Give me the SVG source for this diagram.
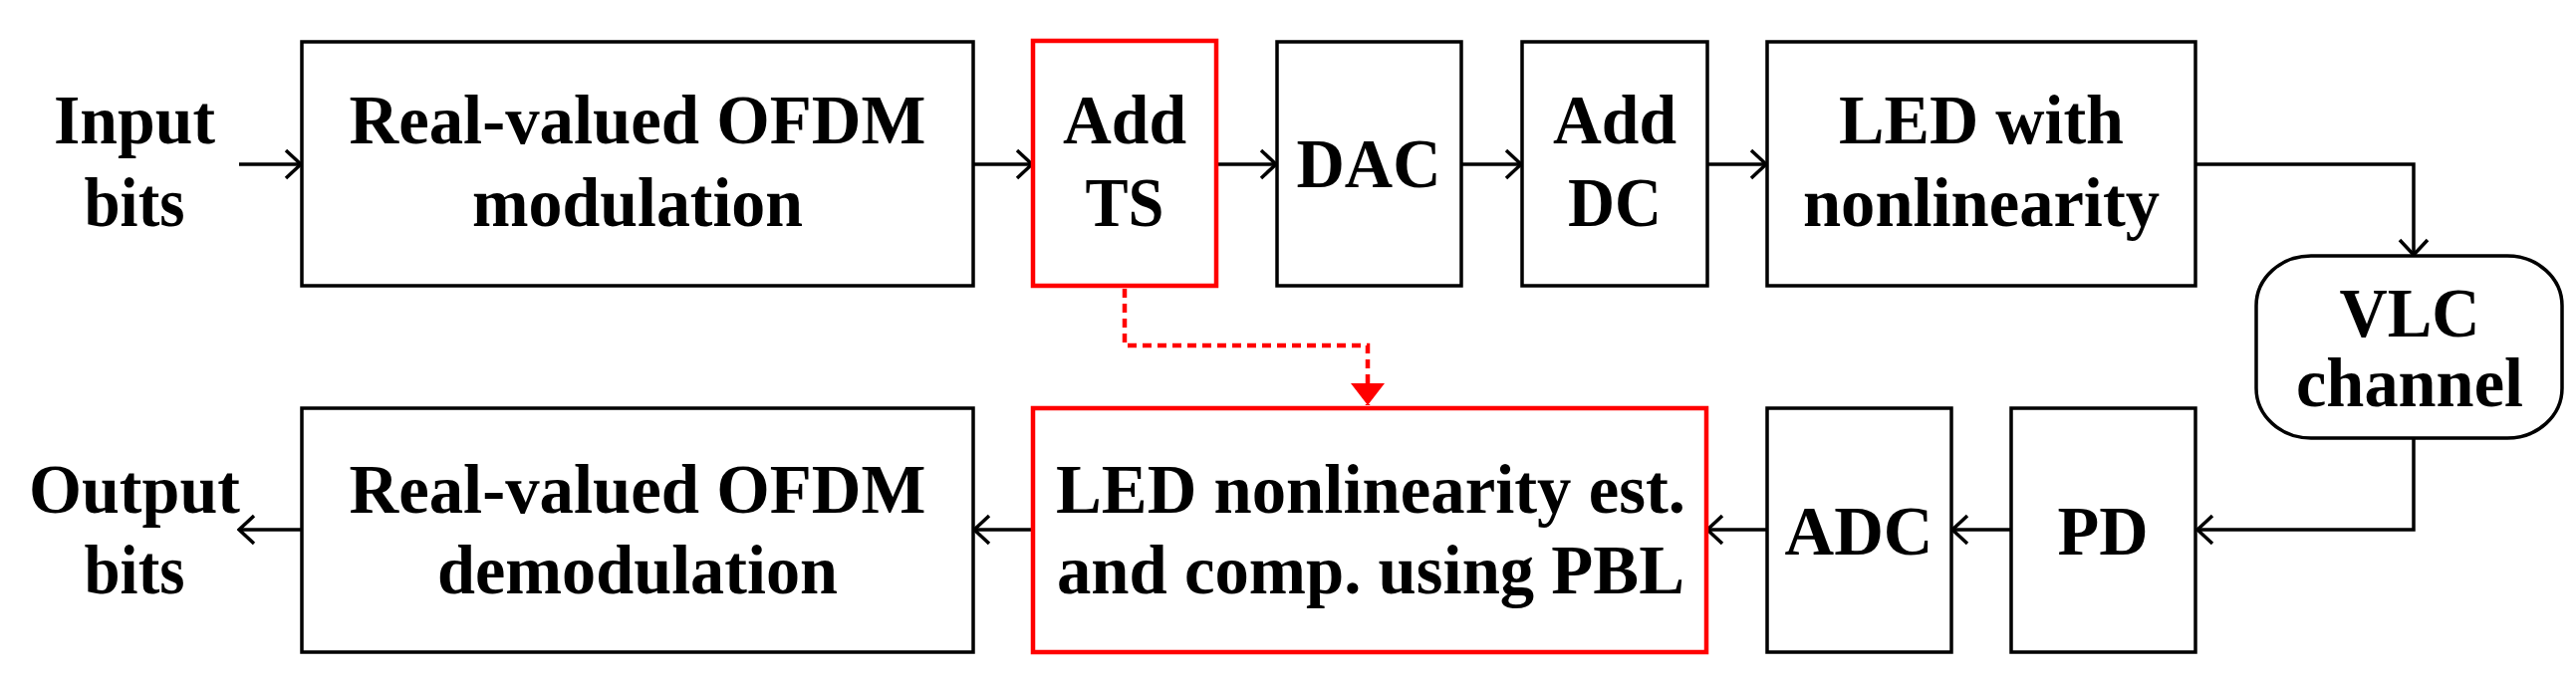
<svg xmlns="http://www.w3.org/2000/svg" width="2586" height="684" viewBox="0 0 2586 684">
<style>
.b{fill:#fff;stroke:#000;stroke-width:3.5}
.r{fill:#fff;stroke:#f00;stroke-width:4.5}
text{font-family:"Liberation Serif",serif;font-weight:bold;font-size:70px;text-anchor:middle;fill:#000}
.c{fill:none;stroke:#000;stroke-width:3.5}
</style>
<defs>
<marker id="a" markerWidth="20" markerHeight="32" refX="18" refY="16" orient="auto" markerUnits="userSpaceOnUse"><path d="M3,2 L18,16 L3,30" fill="none" stroke="#000" stroke-width="3.5"/></marker>
<marker id="ra" markerWidth="24" markerHeight="34" refX="22" refY="17" orient="auto" markerUnits="userSpaceOnUse"><path d="M0,0 L22,17 L0,34 Z" fill="#f00"/></marker>
</defs>
<g id="connectors">
<line class="c" x1="240" y1="165" x2="302" y2="165" marker-end="url(#a)"/>
<line class="c" x1="977" y1="165" x2="1036" y2="165" marker-end="url(#a)"/>
<line class="c" x1="1221" y1="165" x2="1281" y2="165" marker-end="url(#a)"/>
<line class="c" x1="1467" y1="165" x2="1527" y2="165" marker-end="url(#a)"/>
<line class="c" x1="1714" y1="165" x2="1773" y2="165" marker-end="url(#a)"/>
<polyline class="c" points="2204,165 2423,165 2423,256" marker-end="url(#a)"/>
<polyline class="c" points="2423,440 2423,532 2206,532" marker-end="url(#a)"/>
<line class="c" x1="2019" y1="532" x2="1960" y2="532" marker-end="url(#a)"/>
<line class="c" x1="1774" y1="532" x2="1714" y2="532" marker-end="url(#a)"/>
<line class="c" x1="1037" y1="532" x2="978" y2="532" marker-end="url(#a)"/>
<line class="c" x1="303" y1="532" x2="240" y2="532" marker-end="url(#a)"/>
<polyline points="1129,290 1129,347 1373,347 1373,407" fill="none" stroke="#f00" stroke-width="4.5" stroke-dasharray="9,6" marker-end="url(#ra)"/>
</g>
<g id="input"><text x="135" y="144" textLength="162" lengthAdjust="spacingAndGlyphs">Input</text>
<text x="135" y="227" textLength="101" lengthAdjust="spacingAndGlyphs">bits</text></g>
<g id="output"><text x="135" y="515" textLength="212" lengthAdjust="spacingAndGlyphs">Output</text>
<text x="135" y="596" textLength="101" lengthAdjust="spacingAndGlyphs">bits</text></g>
<g id="ofdm-mod"><rect class="b" x="303" y="42" width="674" height="245"/>
<text x="640" y="144" textLength="579" lengthAdjust="spacingAndGlyphs">Real-valued OFDM</text>
<text x="640" y="227" textLength="332" lengthAdjust="spacingAndGlyphs">modulation</text></g>
<g id="add-ts"><rect class="r" x="1037" y="41" width="184" height="246"/>
<text x="1129" y="144" textLength="124" lengthAdjust="spacingAndGlyphs">Add</text>
<text x="1129" y="227" textLength="79" lengthAdjust="spacingAndGlyphs">TS</text></g>
<g id="dac"><rect class="b" x="1282" y="42" width="185" height="245"/>
<text x="1374" y="188" textLength="145" lengthAdjust="spacingAndGlyphs">DAC</text></g>
<g id="add-dc"><rect class="b" x="1528" y="42" width="186" height="245"/>
<text x="1621" y="144" textLength="124" lengthAdjust="spacingAndGlyphs">Add</text>
<text x="1621" y="227" textLength="94" lengthAdjust="spacingAndGlyphs">DC</text></g>
<g id="led"><rect class="b" x="1774" y="42" width="430" height="245"/>
<text x="1989" y="144" textLength="286" lengthAdjust="spacingAndGlyphs">LED with</text>
<text x="1989" y="227" textLength="358" lengthAdjust="spacingAndGlyphs">nonlinearity</text></g>
<g id="vlc"><rect class="b" x="2265" y="257" width="307" height="183" rx="55" ry="50"/>
<text x="2419" y="338" textLength="141" lengthAdjust="spacingAndGlyphs">VLC</text>
<text x="2419" y="408" textLength="228" lengthAdjust="spacingAndGlyphs">channel</text></g>
<g id="pd"><rect class="b" x="2019" y="410" width="185" height="245"/>
<text x="2111" y="557" textLength="91" lengthAdjust="spacingAndGlyphs">PD</text></g>
<g id="adc"><rect class="b" x="1774" y="410" width="185" height="245"/>
<text x="1866" y="557" textLength="149" lengthAdjust="spacingAndGlyphs">ADC</text></g>
<g id="led-est"><rect class="r" x="1037" y="410" width="676" height="245"/>
<text x="1376" y="515" textLength="632" lengthAdjust="spacingAndGlyphs">LED nonlinearity est.</text>
<text x="1376" y="596" textLength="630" lengthAdjust="spacingAndGlyphs">and comp. using PBL</text></g>
<g id="ofdm-demod"><rect class="b" x="303" y="410" width="674" height="245"/>
<text x="640" y="515" textLength="579" lengthAdjust="spacingAndGlyphs">Real-valued OFDM</text>
<text x="640" y="596" textLength="402" lengthAdjust="spacingAndGlyphs">demodulation</text></g>
</svg>
